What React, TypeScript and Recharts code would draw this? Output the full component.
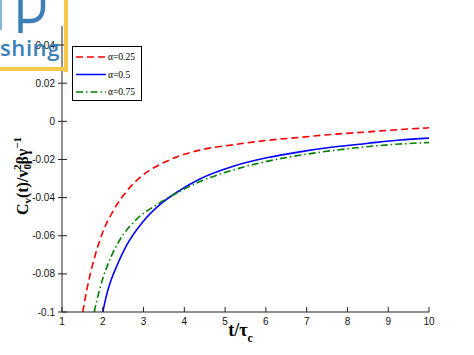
import { LineChart, Line, XAxis, YAxis, Legend } from 'recharts';

// axis ticks
const xTicks = [1, 2, 3, 4, 5, 6, 7, 8, 9, 10];
const yTicks = [-0.1, -0.08, -0.06, -0.04, -0.02, 0, 0.02, 0.04];

// alpha = 0.25 (red dashed)
const tAlpha025 = [1.51, 1.6, 1.7, 1.8, 2.01, 2.26, 2.59, 2.99, 3.57, 4.38, 5.2, 6.02, 6.83, 7.65, 8.47, 9.28, 10];
const cAlpha025 = [-0.1, -0.0893, -0.0795, -0.0713, -0.0575, -0.0468, -0.0365, -0.0281, -0.0209, -0.0151, -0.0123, -0.01, -0.0084, -0.0068, -0.0056, -0.0043, -0.0034];

// alpha = 0.5 (blue solid)
const tAlpha05 = [2.0, 2.1, 2.2, 2.35, 2.59, 2.99, 3.4, 3.89, 4.38, 5.2, 6.02, 6.83, 7.65, 8.47, 9.28, 10];
const cAlpha05 = [-0.1, -0.0905, -0.0835, -0.0755, -0.0648, -0.0525, -0.0437, -0.0362, -0.0302, -0.0235, -0.0191, -0.016, -0.0135, -0.0116, -0.0098, -0.0088];

// alpha = 0.75 (green dash-dot)
const tAlpha075 = [1.79, 1.9, 2.0, 2.2, 2.42, 2.83, 3.32, 3.89, 4.38, 5.2, 6.02, 6.83, 7.65, 8.47, 9.28, 10];
const cAlpha075 = [-0.1, -0.09, -0.0825, -0.0712, -0.0621, -0.0513, -0.0438, -0.0367, -0.0316, -0.0255, -0.021, -0.0178, -0.0153, -0.0133, -0.0119, -0.0111];

const toPoints = (ts: number[], cs: number[]) => ts.map((t, i) => ({ t, c: cs[i] }));

const SERIES = [
  { name: 'α=0.25', data: toPoints(tAlpha025, cAlpha025), color: '#ff0000', dash: '7 4' },
  { name: 'α=0.5', data: toPoints(tAlpha05, cAlpha05), color: '#0000ff', dash: undefined },
  { name: 'α=0.75', data: toPoints(tAlpha075, cAlpha075), color: '#008000', dash: '7 3 1.5 3' },
];

const AXIS = '#222';
const TICK_FONT = '"Liberation Sans", Arial, sans-serif';
const SERIF = '"Liberation Serif", "Times New Roman", serif';

// MATLAB style ticks: marks point into the plot box
const BottomTick = (props: any) => {
  const { x, y, payload } = props;
  const axisY = y - 5;
  return (
    <g>
      <line x1={x} x2={x} y1={axisY} y2={axisY - 5} stroke={AXIS} />
      <text x={x} y={y} dy="0.75em" textAnchor="middle" fontSize={10} fontFamily={TICK_FONT} fill="#111">
        {payload.value}
      </text>
    </g>
  );
};

const LeftTick = (props: any) => {
  const { x, y, payload } = props;
  const axisX = x + 6;
  return (
    <g>
      <line x1={axisX - 4} x2={axisX + 5} y1={y} y2={y} stroke={AXIS} />
      <text x={x - 1} y={y} dy="0.35em" textAnchor="end" fontSize={10} fontFamily={TICK_FONT} fill="#111">
        {payload.value}
      </text>
    </g>
  );
};

const TopTick = (props: any) => {
  const { x, y } = props;
  return <line x1={x} x2={x} y1={y} y2={y + 5} stroke={AXIS} />;
};

const RightTick = (props: any) => {
  const { x, y } = props;
  return <line x1={x} x2={x - 5} y1={y} y2={y} stroke={AXIS} />;
};

const XTitle = (props: any) => {
  const { viewBox } = props;
  const cx = viewBox.x + viewBox.width / 2 - 5;
  const by = viewBox.y + 24;
  return (
    <text x={cx} y={by} textAnchor="middle" fontFamily={SERIF} fontWeight="bold" fontSize={18} fill="#000">
      t/τ
      <tspan fontSize={12} dy={6}>c</tspan>
    </text>
  );
};

const YTitle = (props: any) => {
  const { viewBox } = props;
  const x = viewBox.x + 16;
  const y = 176;
  return (
    <text
      x={x}
      y={y}
      textAnchor="middle"
      transform={`rotate(-90 ${x} ${y})`}
      fontFamily={SERIF}
      fontWeight="bold"
      fontSize={16}
      fill="#000"
    >
      C
      <tspan fontSize={11} dy={3}>v</tspan>
      <tspan dy={-3}>(t)/v</tspan>
      <tspan fontSize={11} dy={3}>0</tspan>
      <tspan fontSize={11} dx={-6} dy={-10}>2</tspan>
      <tspan dy={7}>βγ</tspan>
      <tspan fontSize={11} dy={-7}>−1</tspan>
    </text>
  );
};

const LegendBox = () => (
  <div
    style={{
      width: 68,
      height: 53,
      border: '1px solid #000',
      background: '#fff',
      boxSizing: 'content-box',
      position: 'relative',
    }}
  >
    <svg width={68} height={53} style={{ display: 'block' }}>
      {SERIES.map((s, i) => {
        const cy = 10 + i * 17.5;
        return (
          <g key={s.name}>
            <line x1={3} x2={33} y1={cy} y2={cy} stroke={s.color} strokeWidth={1.5} strokeDasharray={s.dash} />
            <text x={35} y={cy} dy="0.35em" fontSize={9.5} fontFamily={SERIF} fill="#000">
              {s.name}
            </text>
          </g>
        );
      })}
    </svg>
  </div>
);

// cropped publisher logo sitting on top of the figure
const Logo = () => (
  <svg width={80} height={80} style={{ position: 'absolute', left: 0, top: 0, pointerEvents: 'none' }}>
    <rect x={0} y={0} width={2} height={30} fill="#86b6da" />
    <line x1={20.5} x2={20.5} y1={0} y2={33} stroke="#3d80b8" strokeWidth={4.5} />
    <path d="M 20 21 H 30 C 39 21 43 15 43 7 V 0" fill="none" stroke="#3d80b8" strokeWidth={4.5} />
    <text
      x={0}
      y={56}
      fontSize={22}
      fontWeight={600}
      letterSpacing={0.6}
      fontFamily='"Open Sans", "Noto Sans", sans-serif'
      fill="#3a80b9"
    >
      shing
    </text>
    <rect x={64} y={0} width={4} height={72} fill="#f6c84a" />
    <rect x={0} y={67} width={68} height={4} fill="#f6c84a" />
  </svg>
);

export default function App() {
  return (
    <div style={{ position: 'absolute', left: 0, top: 0, width: 474, height: 355, background: '#fff' }}>
      <LineChart width={474} height={355} margin={{ top: 26, right: 45, bottom: 13, left: 12 }}>
        <XAxis
          xAxisId="bottom"
          dataKey="t"
          type="number"
          domain={[1, 10]}
          ticks={xTicks}
          allowDataOverflow
          height={30}
          stroke={AXIS}
          tickSize={0}
          tickMargin={5}
          tick={<BottomTick />}
          label={<XTitle />}
        />
        <XAxis
          xAxisId="top"
          orientation="top"
          type="number"
          domain={[1, 10]}
          ticks={xTicks}
          allowDataOverflow
          height={0}
          stroke={AXIS}
          tickSize={0}
          tickMargin={0}
          tick={<TopTick />}
        />
        <YAxis
          yAxisId="left"
          type="number"
          domain={[-0.1, 0.05]}
          ticks={yTicks}
          allowDataOverflow
          width={50}
          stroke={AXIS}
          tickSize={0}
          tickMargin={6}
          tick={<LeftTick />}
          label={<YTitle />}
        />
        <YAxis
          yAxisId="right"
          orientation="right"
          type="number"
          domain={[-0.1, 0.05]}
          ticks={yTicks}
          allowDataOverflow
          width={0}
          stroke={AXIS}
          tickSize={0}
          tickMargin={0}
          tick={<RightTick />}
        />
        {SERIES.map((s) => (
          <Line
            key={s.name}
            name={s.name}
            xAxisId="bottom"
            yAxisId="left"
            data={s.data}
            dataKey="c"
            type="monotone"
            stroke={s.color}
            strokeWidth={1.6}
            strokeDasharray={s.dash}
            dot={false}
            activeDot={false}
            isAnimationActive={false}
          />
        ))}
        <Legend
          layout="vertical"
          align="center"
          verticalAlign="middle"
          content={<LegendBox />}
          wrapperStyle={{ left: 72, top: 46, width: 70, height: 55 }}
        />
      </LineChart>
      <Logo />
    </div>
  );
}
